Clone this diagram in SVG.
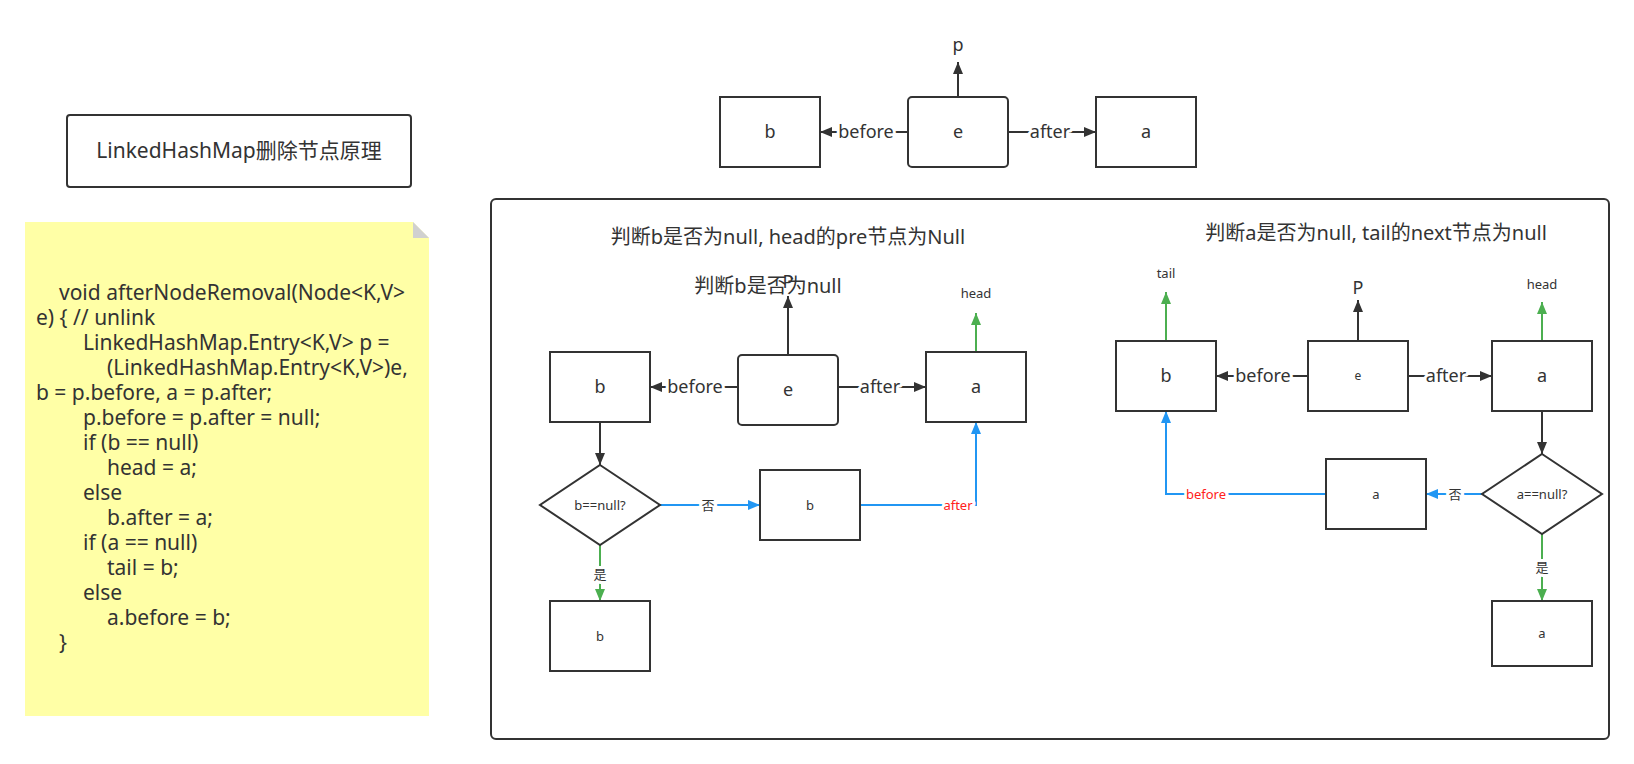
<svg xmlns="http://www.w3.org/2000/svg" width="1634" height="764" viewBox="0 0 1634 764">
<style>
text{font-family:"Noto Sans","Noto Sans CJK SC",sans-serif;fill:#333333}
.c{text-anchor:middle}
.f18{font-size:18px}
.f20{font-size:20px}
.f13{font-size:13px}
.f12{font-size:12px}
.box{fill:#ffffff;stroke:#333333;stroke-width:2}
.ln{fill:none;stroke:#333333;stroke-width:2}
.g{fill:none;stroke:#4CAF50;stroke-width:2}
.bl{fill:none;stroke:#2196F3;stroke-width:2}
.lbl{paint-order:stroke;stroke:#ffffff;stroke-width:6px;stroke-linejoin:round}
.red{fill:#FF2020}
.code{font-size:21px}
</style>
<defs>
<marker id="ak" markerUnits="userSpaceOnUse" markerWidth="12" markerHeight="10" refX="12" refY="5" orient="auto"><path d="M0,0 L12,5 L0,10 Z" fill="#333333"/></marker>
<marker id="ag" markerUnits="userSpaceOnUse" markerWidth="12" markerHeight="10" refX="12" refY="5" orient="auto"><path d="M0,0 L12,5 L0,10 Z" fill="#4CAF50"/></marker>
<marker id="ab" markerUnits="userSpaceOnUse" markerWidth="12" markerHeight="10" refX="12" refY="5" orient="auto"><path d="M0,0 L12,5 L0,10 Z" fill="#2196F3"/></marker>
</defs>
<rect width="1634" height="764" fill="#ffffff"/>

<g id="title">
<rect class="box" x="67" y="115" width="344" height="72" rx="3"/>
<text class="c" x="239" y="158" style="font-size:21px">LinkedHashMap删除节点原理</text>
</g>

<g id="note">
<path d="M25,222 L413,222 L429,238 L429,716 L25,716 Z" fill="#FFFFA6"/>
<path d="M413,222 L429,238 L413,238 Z" fill="#D0D0D0"/>
<text class="code" x="59" y="300">void afterNodeRemoval(Node&lt;K,V&gt;</text>
<text class="code" x="36" y="325">e) { // unlink</text>
<text class="code" x="83" y="350">LinkedHashMap.Entry&lt;K,V&gt; p =</text>
<text class="code" x="107" y="375">(LinkedHashMap.Entry&lt;K,V&gt;)e,</text>
<text class="code" x="36" y="400">b = p.before, a = p.after;</text>
<text class="code" x="83" y="425">p.before = p.after = null;</text>
<text class="code" x="83" y="450">if (b == null)</text>
<text class="code" x="107" y="475">head = a;</text>
<text class="code" x="83" y="500">else</text>
<text class="code" x="107" y="525">b.after = a;</text>
<text class="code" x="83" y="550">if (a == null)</text>
<text class="code" x="107" y="575">tail = b;</text>
<text class="code" x="83" y="600">else</text>
<text class="code" x="107" y="625">a.before = b;</text>
<text class="code" x="59" y="650">}</text>
</g>

<g id="container">
<rect x="491" y="199" width="1118" height="540" rx="5" fill="none" stroke="#333333" stroke-width="2"/>
</g>

<g id="connectors">
<line class="ln" x1="958" y1="97" x2="958" y2="62" marker-end="url(#ak)"/>
<line class="ln" x1="908" y1="132" x2="820" y2="132" marker-end="url(#ak)"/>
<line class="ln" x1="1008" y1="132" x2="1096" y2="132" marker-end="url(#ak)"/>
<line class="ln" x1="788" y1="355" x2="788" y2="296" marker-end="url(#ak)"/>
<line class="ln" x1="738" y1="387" x2="650" y2="387" marker-end="url(#ak)"/>
<line class="ln" x1="838" y1="387" x2="926" y2="387" marker-end="url(#ak)"/>
<line class="g" x1="976" y1="352" x2="976" y2="313" marker-end="url(#ag)"/>
<line class="ln" x1="600" y1="422" x2="600" y2="465" marker-end="url(#ak)"/>
<line class="bl" x1="660" y1="505" x2="760" y2="505" marker-end="url(#ab)"/>
<polyline class="bl" points="860,505 976,505 976,422" marker-end="url(#ab)"/>
<line class="g" x1="600" y1="545" x2="600" y2="601" marker-end="url(#ag)"/>
<line class="g" x1="1166" y1="341" x2="1166" y2="292" marker-end="url(#ag)"/>
<line class="ln" x1="1358" y1="341" x2="1358" y2="300" marker-end="url(#ak)"/>
<line class="g" x1="1542" y1="341" x2="1542" y2="302" marker-end="url(#ag)"/>
<line class="ln" x1="1308" y1="376" x2="1216" y2="376" marker-end="url(#ak)"/>
<line class="ln" x1="1408" y1="376" x2="1492" y2="376" marker-end="url(#ak)"/>
<line class="ln" x1="1542" y1="411" x2="1542" y2="454" marker-end="url(#ak)"/>
<line class="bl" x1="1482" y1="494" x2="1426" y2="494" marker-end="url(#ab)"/>
<polyline class="bl" points="1326,494 1166,494 1166,411" marker-end="url(#ab)"/>
<line class="g" x1="1542" y1="534" x2="1542" y2="601" marker-end="url(#ag)"/>
<text class="c f18 lbl" x="958" y="51">p</text>
<text class="c f18 lbl" x="866" y="138">before</text>
<text class="c f18 lbl" x="1050" y="138">after</text>
<text class="c f18 lbl" x="695" y="393">before</text>
<text class="c f18 lbl" x="880" y="393">after</text>
<text class="c f13" x="976" y="298">head</text>
<text class="c f13 lbl" x="708" y="510">否</text>
<text class="c f13 lbl red" x="958" y="510">after</text>
<text class="c f13 lbl" x="600" y="579">是</text>
<text class="c f13" x="1166" y="278">tail</text>
<text class="c f18" x="1358" y="294">P</text>
<text class="c f13" x="1542" y="289">head</text>
<text class="c f18 lbl" x="1263" y="382">before</text>
<text class="c f18 lbl" x="1446" y="382">after</text>
<text class="c f13 lbl" x="1455" y="499">否</text>
<text class="c f13 lbl red" x="1206" y="499">before</text>
<text class="c f13 lbl" x="1542" y="572">是</text>
</g>

<g id="left-title"><text class="c f20" x="788" y="244">判断b是否为null, head的pre节点为Null</text></g>
<g id="left-p"><text class="c f18" x="788" y="288">P</text></g>
<g id="left-subtitle"><text class="c f20" x="768" y="293">判断b是否为null</text></g>

<g id="top-b"><rect class="box" x="720" y="97" width="100" height="70"/><text class="c f18" x="770" y="138">b</text></g>
<g id="top-e"><rect class="box" x="908" y="97" width="100" height="70" rx="4"/><text class="c f18" x="958" y="138">e</text></g>
<g id="top-a"><rect class="box" x="1096" y="97" width="100" height="70"/><text class="c f18" x="1146" y="138">a</text></g>

<g id="l-b"><rect class="box" x="550" y="352" width="100" height="70"/><text class="c f18" x="600" y="393">b</text></g>
<g id="l-e"><rect class="box" x="738" y="355" width="100" height="70" rx="4"/><text class="c f18" x="788" y="396">e</text></g>
<g id="l-a"><rect class="box" x="926" y="352" width="100" height="70"/><text class="c f18" x="976" y="393">a</text></g>
<g id="l-diamond"><path class="box" d="M600,465 L660,505 L600,545 L540,505 Z"/><text class="c f13" x="600" y="510">b==null?</text></g>
<g id="l-bno"><rect class="box" x="760" y="470" width="100" height="70"/><text class="c f13" x="810" y="510">b</text></g>
<g id="l-byes"><rect class="box" x="550" y="601" width="100" height="70"/><text class="c f13" x="600" y="641">b</text></g>

<g id="right-title"><text class="c f20" x="1376" y="240">判断a是否为null, tail的next节点为null</text></g>
<g id="r-b"><rect class="box" x="1116" y="341" width="100" height="70"/><text class="c f18" x="1166" y="382">b</text></g>
<g id="r-e"><rect class="box" x="1308" y="341" width="100" height="70"/><text class="c f12" x="1358" y="380">e</text></g>
<g id="r-a"><rect class="box" x="1492" y="341" width="100" height="70"/><text class="c f18" x="1542" y="382">a</text></g>
<g id="r-diamond"><path class="box" d="M1542,454 L1602,494 L1542,534 L1482,494 Z"/><text class="c f13" x="1542" y="499">a==null?</text></g>
<g id="r-ano"><rect class="box" x="1326" y="459" width="100" height="70"/><text class="c f13" x="1376" y="499">a</text></g>
<g id="r-ayes"><rect class="box" x="1492" y="601" width="100" height="65"/><text class="c f13" x="1542" y="638">a</text></g>
</svg>
